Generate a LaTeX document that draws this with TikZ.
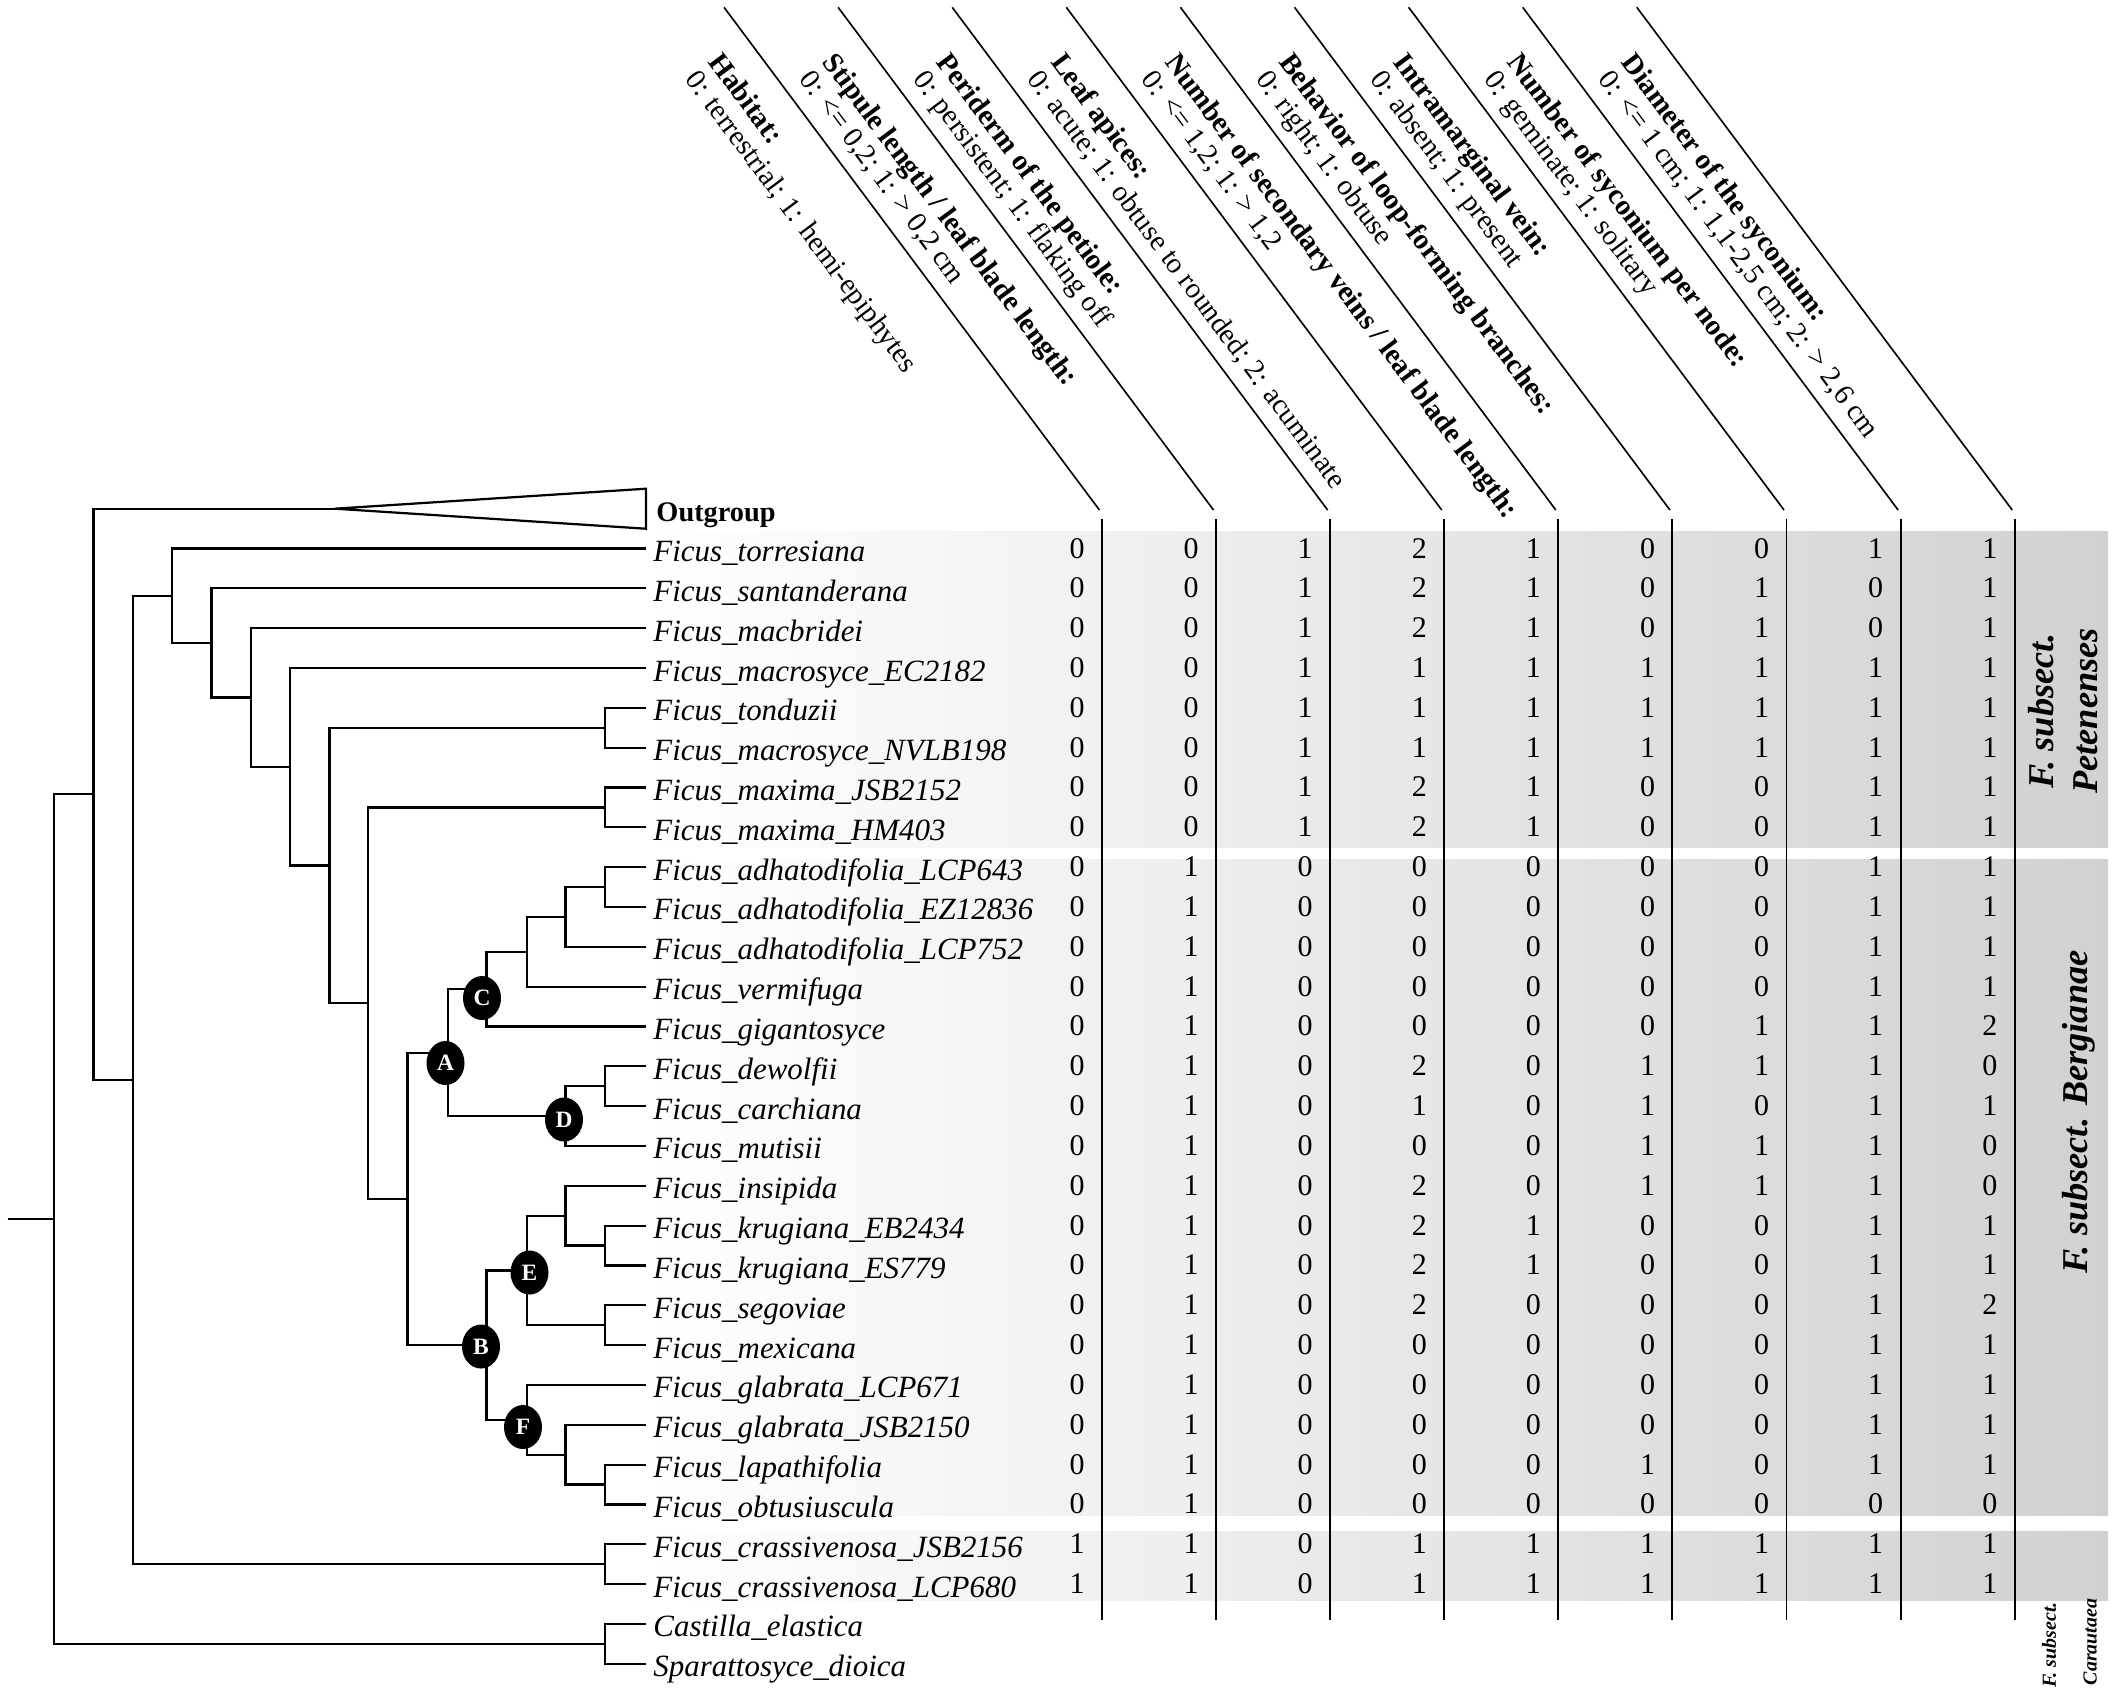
\documentclass[tikz,border=0pt]{standalone}
\usepackage{fontspec}
\setmainfont{Liberation Serif}
\usetikzlibrary{shapes.geometric}
\newcommand\colhead[3]{%
  \node[htitle] (ht#1) at ({707.5+114.1*#1},62.0) {#2};
  \node[hdesc] (hd#1) at ({684.3+114.1*#1},79.4) {#3};}
\newcommand\mxrow[2]{%
  \foreach \v [count=\c from 0] in {#2} {\node[dig] (d#1c\c) at ({1077+114.1*\c},{558+39.83*#1}) {\v};}}
\newcommand\leaflab[2]{\node[leaf] (L#1) at (653,{561.5+39.83*#1}) {#2};}
\begin{document}
\begin{tikzpicture}[x=0.015cm,y=-0.015cm,
  br/.style={line width=0.95pt},
  hline/.style={line width=0.7pt},
  vline/.style={line width=0.8pt},
  leaf/.style={anchor=base west,inner sep=0pt,font=\fontsize{13.2}{15}\selectfont\itshape},
  ogl/.style={anchor=base west,inner sep=0pt,font=\fontsize{12.1}{14}\selectfont\bfseries},
  dig/.style={anchor=base,inner sep=0pt,font=\fontsize{12.8}{14}\selectfont},
  htitle/.style={anchor=base west,inner sep=0pt,rotate=-53.25,font=\fontsize{12.3}{14}\selectfont\bfseries},
  hdesc/.style={anchor=base west,inner sep=0pt,rotate=-53.25,font=\fontsize{12.3}{14}\selectfont},
  clade/.style={ellipse,fill=black,text=white,inner sep=0pt,minimum width=0.57cm,minimum height=0.66cm,font=\fontsize{10}{10}\selectfont\bfseries},
  grp/.style={rotate=90,align=center,inner sep=0pt},
  band/.style={left color=white,right color=black!18}
]
\fill[white] (0,0) rectangle (2117,1693);
\useasboundingbox (0,0) rectangle (2117,1693);

% shaded bands
\shade[band] (645,531) rectangle (2108,847);
\shade[band] (645,859) rectangle (2108,1515);
\shade[band] (645,1531) rectangle (2108,1600);

% tree coordinates
\coordinate (root) at (54,1219.07);
\coordinate (stub) at (7.6,1219.07);
\coordinate (n1) at (93.4,794.3);
\coordinate (n2) at (132.7,1079.93);
\coordinate (n3) at (172,595.69);
\coordinate (n4) at (211.4,642.88);
\coordinate (n5) at (250.8,697.43);
\coordinate (n6) at (290.2,766.71);
\coordinate (n7) at (329.5,865.43);
\coordinate (n8) at (368.3,1003.12);
\coordinate (n9) at (407.6,1198.85);
\coordinate (nA) at (447.8,1052.6);
\coordinate (nC) at (486.6,989.12);
\coordinate (nB) at (486.6,1345.1);
\coordinate (nC1) at (526.8,951.78);
\coordinate (nE) at (526.8,1270.43);
\coordinate (nF) at (526.8,1419.78);
\coordinate (nC2) at (565.6,916.93);
\coordinate (nD) at (565.6,1116.08);
\coordinate (nE1) at (565.6,1215.66);
\coordinate (nF1) at (565.6,1454.63);
\coordinate (t45) at (604.9,727.74);
\coordinate (t67) at (604.9,807.4);
\coordinate (nC3) at (604.9,887.06);
\coordinate (nD1) at (604.9,1086.2);
\coordinate (nE2) at (604.9,1245.53);
\coordinate (nE3) at (604.9,1325.19);
\coordinate (nF2) at (604.9,1484.5);
\coordinate (cr) at (604.9,1564.17);
\coordinate (cs) at (604.9,1643.83);
\coordinate (og) at (334.8,508.67);
\coordinate (ogA) at (646,488.7);
\coordinate (ogB) at (646,528.7);
\foreach \i in {0,...,28} {\coordinate (l\i) at (646,{548.5+39.83*\i});}

% branches
\draw[br] (stub) -- (root);
\draw[br] (n1) -| (root) |- (cs);
\draw[br] (og) -| (n1) |- (n2);
\draw[br] (n3) -| (n2) |- (cr);
\draw[br] (l0) -| (n3) |- (n4);
\draw[br] (l1) -| (n4) |- (n5);
\draw[br] (l2) -| (n5) |- (n6);
\draw[br] (l3) -| (n6) |- (n7);
\draw[br] (t45) -| (n7) |- (n8);
\draw[br] (t67) -| (n8) |- (n9);
\draw[br] (nA) -| (n9) |- (nB);
\draw[br] (nC) -| (nA) |- (nD);
\draw[br] (nC1) -| (nC) |- (l12);
\draw[br] (nC2) -| (nC1) |- (l11);
\draw[br] (nC3) -| (nC2) |- (l10);
\draw[br] (l8) -| (nC3) |- (l9);
\draw[br] (nD1) -| (nD) |- (l15);
\draw[br] (l13) -| (nD1) |- (l14);
\draw[br] (nE) -| (nB) |- (nF);
\draw[br] (nE1) -| (nE) |- (nE3);
\draw[br] (l16) -| (nE1) |- (nE2);
\draw[br] (l17) -| (nE2) |- (l18);
\draw[br] (l19) -| (nE3) |- (l20);
\draw[br] (l21) -| (nF) |- (nF1);
\draw[br] (l22) -| (nF1) |- (nF2);
\draw[br] (l23) -| (nF2) |- (l24);
\draw[br] (l4) -| (t45) |- (l5);
\draw[br] (l6) -| (t67) |- (l7);
\draw[br] (l25) -| (cr) |- (l26);
\draw[br] (l27) -| (cs) |- (l28);
\draw[br] (og) -- (ogA) -- (ogB) -- cycle;

% clade markers
\node[clade] (cA) at (445.5,1063) {A};
\node[clade] (cC) at (482,998) {C};
\node[clade] (cD) at (564,1119.5) {D};
\node[clade] (cB) at (481,1346.5) {B};
\node[clade] (cE) at (529.5,1272.5) {E};
\node[clade] (cF) at (523,1427) {F};

% taxon labels
\node[ogl] (LOG) at (656,521.7) {Outgroup};
\leaflab{0}{Ficus\_torresiana}
\leaflab{1}{Ficus\_santanderana}
\leaflab{2}{Ficus\_macbridei}
\leaflab{3}{Ficus\_macrosyce\_EC2182}
\leaflab{4}{Ficus\_tonduzii}
\leaflab{5}{Ficus\_macrosyce\_NVLB198}
\leaflab{6}{Ficus\_maxima\_JSB2152}
\leaflab{7}{Ficus\_maxima\_HM403}
\leaflab{8}{Ficus\_adhatodifolia\_LCP643}
\leaflab{9}{Ficus\_adhatodifolia\_EZ12836}
\leaflab{10}{Ficus\_adhatodifolia\_LCP752}
\leaflab{11}{Ficus\_vermifuga}
\leaflab{12}{Ficus\_gigantosyce}
\leaflab{13}{Ficus\_dewolfii}
\leaflab{14}{Ficus\_carchiana}
\leaflab{15}{Ficus\_mutisii}
\leaflab{16}{Ficus\_insipida}
\leaflab{17}{Ficus\_krugiana\_EB2434}
\leaflab{18}{Ficus\_krugiana\_ES779}
\leaflab{19}{Ficus\_segoviae}
\leaflab{20}{Ficus\_mexicana}
\leaflab{21}{Ficus\_glabrata\_LCP671}
\leaflab{22}{Ficus\_glabrata\_JSB2150}
\leaflab{23}{Ficus\_lapathifolia}
\leaflab{24}{Ficus\_obtusiuscula}
\leaflab{25}{Ficus\_crassivenosa\_JSB2156}
\leaflab{26}{Ficus\_crassivenosa\_LCP680}
\leaflab{27}{Castilla\_elastica}
\leaflab{28}{Sparattosyce\_dioica}

% matrix grid
\foreach \k in {0,...,8} {
  \draw[hline] ({724+114.1*\k},7.3) -- ({1099.4+114.1*\k},510);
  \draw[vline] ({1101.9+114.1*\k},519) -- ({1101.9+114.1*\k},1620);
}

% column headers
\colhead{0}{Habitat:}{0: terrestrial; 1: hemi-epiphytes}
\colhead{1}{Stipule length / leaf blade length:}{0: <= 0,2; 1: > 0,2 cm}
\colhead{2}{Periderm of the petiole:}{0: persistent; 1: flaking off}
\colhead{3}{Leaf apices:}{0: acute; 1: obtuse to rounded; 2: acuminate}
\colhead{4}{Number of secondary veins / leaf blade length:}{0: <= 1,2; 1: > 1,2}
\colhead{5}{Behavior of loop-forming branches:}{0: right; 1: obtuse}
\colhead{6}{Intramarginal vein:}{0: absent; 1: present}
\colhead{7}{Number of syconium per node:}{0: geminate; 1: solitary}
\colhead{8}{Diameter of the syconium:}{0: <= 1 cm; 1: 1,1-2,5 cm; 2: > 2,6 cm}

% data
\mxrow{0}{0,0,1,2,1,0,0,1,1}
\mxrow{1}{0,0,1,2,1,0,1,0,1}
\mxrow{2}{0,0,1,2,1,0,1,0,1}
\mxrow{3}{0,0,1,1,1,1,1,1,1}
\mxrow{4}{0,0,1,1,1,1,1,1,1}
\mxrow{5}{0,0,1,1,1,1,1,1,1}
\mxrow{6}{0,0,1,2,1,0,0,1,1}
\mxrow{7}{0,0,1,2,1,0,0,1,1}
\mxrow{8}{0,1,0,0,0,0,0,1,1}
\mxrow{9}{0,1,0,0,0,0,0,1,1}
\mxrow{10}{0,1,0,0,0,0,0,1,1}
\mxrow{11}{0,1,0,0,0,0,0,1,1}
\mxrow{12}{0,1,0,0,0,0,1,1,2}
\mxrow{13}{0,1,0,2,0,1,1,1,0}
\mxrow{14}{0,1,0,1,0,1,0,1,1}
\mxrow{15}{0,1,0,0,0,1,1,1,0}
\mxrow{16}{0,1,0,2,0,1,1,1,0}
\mxrow{17}{0,1,0,2,1,0,0,1,1}
\mxrow{18}{0,1,0,2,1,0,0,1,1}
\mxrow{19}{0,1,0,2,0,0,0,1,2}
\mxrow{20}{0,1,0,0,0,0,0,1,1}
\mxrow{21}{0,1,0,0,0,0,0,1,1}
\mxrow{22}{0,1,0,0,0,0,0,1,1}
\mxrow{23}{0,1,0,0,0,1,0,1,1}
\mxrow{24}{0,1,0,0,0,0,0,0,0}
\mxrow{25}{1,1,0,1,1,1,1,1,1}
\mxrow{26}{1,1,0,1,1,1,1,1,1}

% group labels
\node[grp,font=\fontsize{15.5}{19}\selectfont\bfseries\itshape] (gP) at (2063,711) {F. subsect.\\Petenenses};
\node[grp,font=\fontsize{15.5}{19}\selectfont\bfseries\itshape] (gB) at (2079,1112) {F. subsect. Bergianae};
\node[grp,font=\fontsize{8.5}{10}\selectfont\bfseries\itshape] (gC1) at (2049,1645) {F. subsect.};
\node[grp,font=\fontsize{8.5}{10}\selectfont\bfseries\itshape] (gC2) at (2090,1642) {Carautaea};
\end{tikzpicture}
\end{document}
